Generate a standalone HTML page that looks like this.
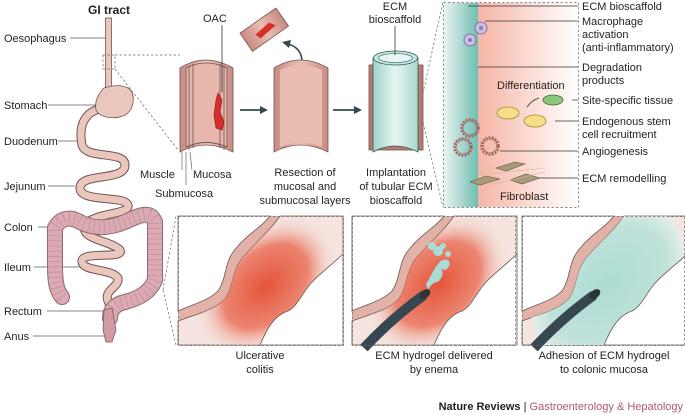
<!DOCTYPE html>
<html><head><meta charset="utf-8"><style>
body{margin:0;background:#fff}
svg{display:block;font-family:"Liberation Sans",sans-serif}
text{font-size:11px;fill:#231f20}
</style></head><body>
<svg width="685" height="415" viewBox="0 0 685 415" xmlns="http://www.w3.org/2000/svg">
<defs>
<linearGradient id="tube" x1="0" x2="1"><stop offset="0" stop-color="#c98a80"/><stop offset=".5" stop-color="#e9bfb4"/><stop offset="1" stop-color="#c98a80"/></linearGradient>
<linearGradient id="teal" x1="0" x2="1"><stop offset="0" stop-color="#9fd3ca"/><stop offset=".5" stop-color="#e6f5f2"/><stop offset="1" stop-color="#a8d8cf"/></linearGradient>
<linearGradient id="band" x1="0" x2="1"><stop offset="0" stop-color="#e8f4f1"/><stop offset="1" stop-color="#6fbdb1"/></linearGradient>
<linearGradient id="pk" x1="0" x2="1"><stop offset="0" stop-color="#f6b5a6"/><stop offset="1" stop-color="#fff"/></linearGradient>
<radialGradient id="red" cx=".5" cy=".5" r=".5"><stop offset="0" stop-color="#e4553a"/><stop offset=".6" stop-color="#ec8470"/><stop offset="1" stop-color="#f4e2dd" stop-opacity="0"/></radialGradient>
<radialGradient id="tl" cx=".5" cy=".5" r=".5"><stop offset="0" stop-color="#acdcd3"/><stop offset=".75" stop-color="#bfe2da"/><stop offset="1" stop-color="#e6eeea"/></radialGradient>
<clipPath id="lum"><path d="M0,105 C18,98 35,95 47,83 C57,68 53,52 68,38 C78,26 92,15 102,0 L165,0 L165,48 C150,58 138,70 128,80 C118,92 102,100 95,112 L90,129 L0,129Z"/></clipPath>
<g id="colbase">
<rect width="165" height="129" fill="#e2b2a8"/>
<path d="M0,105 C18,98 35,95 47,83 C57,68 53,52 68,38 C78,26 92,15 102,0 L165,0 L165,48 C150,58 138,70 128,80 C118,92 102,100 95,112 L90,129 L0,129Z" fill="#f5e4df" stroke="#6a5550" stroke-width=".8"/>
</g>
<g id="colwhite">
<path d="M0,0 L0,95 C15,88 30,85 40,75 C50,60 45,45 60,30 C70,18 85,10 92,0Z" fill="#fff" stroke="#6a5550" stroke-width=".8"/>
<path d="M82,129 C88,115 95,100 110,95 C120,90 125,75 135,65 C145,55 158,45 165,38 L165,129Z" fill="#fff" stroke="#6a5550" stroke-width=".8"/>
</g>
</defs>

<!-- GI tract -->
<text x="88" y="14" font-weight="bold" style="font-size:12px">GI tract</text>
<g stroke="#5a5a5a" stroke-width=".8">
<line x1="70" y1="38" x2="106" y2="38"/><line x1="48" y1="105" x2="100" y2="105"/><line x1="58" y1="141" x2="82" y2="141"/><line x1="48" y1="186" x2="75" y2="186"/><line x1="38" y1="227" x2="55" y2="227"/><line x1="34" y1="267" x2="85" y2="267"/><line x1="47" y1="311" x2="105" y2="311"/><line x1="33" y1="336" x2="105" y2="336"/>
</g>
<text x="4" y="42">Oesophagus</text><text x="4" y="109">Stomach</text><text x="4" y="145">Duodenum</text><text x="4" y="190">Jejunum</text><text x="4" y="231">Colon</text><text x="4" y="271">Ileum</text><text x="4" y="315">Rectum</text><text x="4" y="340">Anus</text>
<!-- small intestine -->
<path d="M105,108 C85,110 78,125 82,145 C86,160 125,150 125,165 C125,182 80,172 80,188 C80,203 125,195 128,205 C130,215 95,212 85,225 C80,240 110,240 120,250 C125,260 80,250 82,262 C84,272 110,268 118,278 C120,288 100,290 110,305" fill="none" stroke="#6d5552" stroke-width="9" stroke-linecap="round"/>
<path d="M105,108 C85,110 78,125 82,145 C86,160 125,150 125,165 C125,182 80,172 80,188 C80,203 125,195 128,205 C130,215 95,212 85,225 C80,240 110,240 120,250 C125,260 80,250 82,262 C84,272 110,268 118,278 C120,288 100,290 110,305" fill="none" stroke="#ebc6bd" stroke-width="7" stroke-linecap="round"/>
<!-- oesophagus & stomach -->
<rect x="105.5" y="18" width="6" height="75" fill="#ebc6bd" stroke="#6d5552" stroke-width=".8"/>
<path d="M104,88 C110,86 120,84 128,88 C136,92 135,110 125,115 C115,120 100,118 96,110 C94,100 100,92 104,88Z" fill="#ebc6bd" stroke="#6d5552" stroke-width=".8"/>
<!-- colon -->
<path d="M62,297 C56,290 55,280 55,265 L55,228 C60,218 70,216 80,222 C95,230 110,228 125,222 C140,215 150,210 155,222 L155,280 C150,292 140,298 125,302 C115,304 110,310 110,318" fill="none" stroke="#8a6a70" stroke-width="16" stroke-linejoin="round" stroke-linecap="round"/>
<path d="M62,297 C56,290 55,280 55,265 L55,228 C60,218 70,216 80,222 C95,230 110,228 125,222 C140,215 150,210 155,222 L155,280 C150,292 140,298 125,302 C115,304 110,310 110,318" fill="none" stroke="#dcaab2" stroke-width="14" stroke-linejoin="round" stroke-linecap="round"/>
<path d="M62,297 C56,290 55,280 55,265 L55,228 C60,218 70,216 80,222 C95,230 110,228 125,222 C140,215 150,210 155,222 L155,280 C150,292 140,298 125,302 C115,304 110,310 110,318" fill="none" stroke="#b07c86" stroke-width="14" stroke-linejoin="round" stroke-dasharray=".7 4.5" opacity=".6"/>
<path d="M104,310 L112,308 L116,330 L112,342 L106,342 L103,330Z" fill="#d49aa4" stroke="#7a5a5e" stroke-width=".8"/>
<!-- zoom dashes -->
<g fill="none" stroke="#6b6b6b" stroke-width=".7" stroke-dasharray="2.5 2">
<rect x="103" y="55" width="12" height="14"/><line x1="115" y1="55" x2="180" y2="55"/><line x1="115" y1="69" x2="178" y2="150"/>
<line x1="163" y1="290" x2="176" y2="345"/><line x1="163" y1="290" x2="176" y2="216"/>
<rect x="413" y="102" width="8" height="12"/><line x1="421" y1="102" x2="443" y2="2"/><line x1="421" y1="114" x2="443" y2="207"/>
</g>
<!-- tube 1 -->
<g stroke="#6d5552" stroke-width=".8">
<path d="M180,68 Q205,52 233,68 L233,152 Q205,138 180,152Z" fill="url(#tube)"/>
<path d="M186,68 Q206,58 227,68 L227,147 Q206,138 186,147Z" fill="#e7b7ab"/>
<line x1="189" y1="66" x2="189" y2="150" /><line x1="193" y1="64" x2="193" y2="148"/><line x1="220" y1="64" x2="220" y2="148"/><line x1="224" y1="66" x2="224" y2="150"/>
<path d="M186,147 Q206,138 227,147" fill="none"/>
</g>
<path d="M218,93 L222,100 L220,112 L224,122 L222,130 L216,128 L214,115 L216,100Z" fill="#d62f2a" stroke="#8a1510" stroke-width=".6"/>
<line x1="222" y1="25" x2="222" y2="92" stroke="#333" stroke-width=".8"/>
<text x="203" y="22">OAC</text>
<g stroke="#666" stroke-width=".7"><line x1="182" y1="152" x2="182" y2="170"/><line x1="186" y1="152" x2="186" y2="185"/><line x1="190" y1="152" x2="192" y2="170"/></g>
<text x="140" y="178">Muscle</text><text x="193" y="178">Mucosa</text><text x="155" y="197">Submucosa</text>
<!-- removed piece -->
<g transform="translate(262,30) rotate(-35)"><rect x="-20" y="-10" width="44" height="22" fill="url(#tube)" stroke="#6d5552" stroke-width=".8"/><path d="M-8,0 L10,-2 L14,4 L-6,6Z" fill="#d62f2a"/></g>
<path d="M302,62 Q302,48 288,44" fill="none" stroke="#37474f" stroke-width="1.6"/><path d="M282,42 L291,40 L289,48Z" fill="#37474f"/>
<!-- tube 2 -->
<path d="M274,68 Q300,52 328,68 L328,152 Q300,138 274,152Z" fill="url(#tube)" stroke="#6d5552" stroke-width=".8"/>
<path d="M280,70 Q301,60 322,70 L322,147 Q301,138 280,147Z" fill="#e9bdb1"/>
<!-- arrows -->
<g stroke="#37474f" stroke-width="1.8"><line x1="240" y1="110" x2="262" y2="110"/><line x1="333" y1="110" x2="356" y2="110"/></g>
<path d="M268,110 L260,106 L260,114Z M362,110 L354,106 L354,114Z" fill="#37474f"/>
<text x="305" y="176" text-anchor="middle">Resection of</text><text x="305" y="190" text-anchor="middle">mucosal and</text><text x="305" y="204" text-anchor="middle">submucosal layers</text>
<!-- tube 3 -->
<rect x="369" y="65" width="54" height="85" fill="#b8796f" stroke="#6d5552" stroke-width=".8"/>
<path d="M373,58 Q395,45 418,58 L418,152 Q395,140 373,152Z" fill="url(#teal)" stroke="#2f5e58" stroke-width=".8"/>
<ellipse cx="395.5" cy="58" rx="22" ry="7" fill="#c4e6df" stroke="#2f5e58" stroke-width=".8"/>
<ellipse cx="395.5" cy="58" rx="17" ry="4.5" fill="#e8f5f2" stroke="#2f5e58" stroke-width=".6"/>
<line x1="395" y1="26" x2="395" y2="55" stroke="#333" stroke-width=".8"/>
<text x="395" y="10" text-anchor="middle">ECM</text><text x="395" y="23" text-anchor="middle">bioscaffold</text>
<text x="396" y="176" text-anchor="middle">Implantation</text><text x="396" y="190" text-anchor="middle">of tubular ECM</text><text x="396" y="204" text-anchor="middle">bioscaffold</text>
<!-- right panel -->
<rect x="444" y="3" width="34" height="204" fill="url(#band)"/>
<rect x="478" y="3" width="100" height="204" fill="url(#pk)"/>
<g stroke="#333" stroke-width=".7">
<line x1="468" y1="6" x2="578" y2="6"/><line x1="485" y1="21" x2="578" y2="21"/><line x1="478" y1="67" x2="578" y2="67"/><line x1="572" y1="100" x2="578" y2="100"/><line x1="555" y1="121" x2="578" y2="121"/><line x1="500" y1="151" x2="578" y2="151"/><line x1="530" y1="178" x2="578" y2="178"/>
</g>
<g fill="#cbbfe0" stroke="#6c6190" stroke-width=".8"><circle cx="481" cy="28" r="6"/><circle cx="470" cy="40" r="6"/></g>
<circle cx="481" cy="28" r="2" fill="#8a7bb8"/><circle cx="470" cy="40" r="2" fill="#8a7bb8"/>
<text x="497" y="89">Differentiation</text>
<ellipse cx="553" cy="100" rx="10" ry="5" fill="#8cc77a" stroke="#3d6b30" stroke-width=".8"/>
<ellipse cx="508" cy="113" rx="11" ry="6" fill="#f7df8a" stroke="#a08a30" stroke-width=".8"/>
<ellipse cx="535" cy="121" rx="11" ry="6" fill="#f7df8a" stroke="#a08a30" stroke-width=".8"/>
<path d="M527,107 Q532,100 539,98" fill="none" stroke="#333" stroke-width=".8"/>
<g fill="none" stroke="#a06a64" stroke-width="3.5" stroke-dasharray="2 1"><circle cx="470" cy="128" r="8"/><circle cx="463" cy="147" r="8"/><circle cx="490" cy="146" r="8"/></g>
<g fill="#a89a7a" stroke="#5e5440" stroke-width=".6"><path d="M496,168 L515,162 L525,164 L506,171Z"/><path d="M470,182 L486,176 L500,179 L480,185Z"/><path d="M510,180 L526,174 L540,178 L522,184Z"/></g>
<g stroke="#c9b69a" stroke-width=".6"><line x1="480" y1="175" x2="545" y2="168"/><line x1="490" y1="185" x2="545" y2="172"/></g>
<text x="500" y="200">Fibroblast</text>
<rect x="443.5" y="2.5" width="135" height="205" fill="none" stroke="#6b6b6b" stroke-width=".7" stroke-dasharray="2.5 2"/>
<g style="font-size:11px"><text x="582" y="10">ECM bioscaffold</text><text x="582" y="25">Macrophage</text><text x="582" y="38">activation</text><text x="582" y="51">(anti-inflammatory)</text><text x="582" y="71">Degradation</text><text x="582" y="84">products</text><text x="582" y="104">Site-specific tissue</text><text x="582" y="125">Endogenous stem</text><text x="582" y="138">cell recruitment</text><text x="582" y="155">Angiogenesis</text><text x="582" y="182">ECM remodelling</text></g>
<!-- bottom panels -->
<g transform="translate(178,216)">
<use href="#colbase"/>
<g clip-path="url(#lum)"><ellipse cx="88" cy="70" rx="82" ry="56" transform="rotate(-45 88 70)" fill="url(#red)"/></g>
<use href="#colwhite"/>
</g>
<g transform="translate(352,216)">
<use href="#colbase"/>
<g clip-path="url(#lum)"><ellipse cx="86" cy="68" rx="82" ry="56" transform="rotate(-45 86 68)" fill="url(#red)"/></g>
<use href="#colwhite"/>
<g fill="#a8dcd4"><path d="M76,74 Q80,66 86,66 Q92,60 90,54 L84,50 Q80,58 74,68Z"/><path d="M84,52 Q88,42 96,44 Q100,48 94,54Z"/><circle cx="86" cy="35" r="5"/><circle cx="80" cy="30" r="4"/><circle cx="91" cy="30" r="3"/><circle cx="96" cy="38" r="3"/></g>
<path d="M12,132 Q40,102 72,79" fill="none" stroke="#37474f" stroke-width="10"/><ellipse cx="73" cy="78" rx="4" ry="6" transform="rotate(50 73 78)" fill="#2a3439"/>
</g>
<g transform="translate(522,216)">
<use href="#colbase"/>
<g clip-path="url(#lum)"><ellipse cx="86" cy="68" rx="90" ry="62" transform="rotate(-45 86 68)" fill="url(#tl)"/></g>
<use href="#colwhite"/>
<path d="M12,132 Q40,102 72,79" fill="none" stroke="#37474f" stroke-width="10"/><ellipse cx="73" cy="78" rx="4" ry="6" transform="rotate(50 73 78)" fill="#2a3439"/>
</g>
<g fill="none" stroke="#6b6b6b" stroke-width=".7" stroke-dasharray="2.5 2">
<rect x="178.5" y="216.5" width="165" height="129"/><rect x="352.5" y="216.5" width="163" height="129"/><rect x="522.5" y="216.5" width="162" height="129"/>
</g>
<g text-anchor="middle"><text x="260" y="359">Ulcerative</text><text x="260" y="373">colitis</text><text x="434" y="359">ECM hydrogel delivered</text><text x="434" y="373">by enema</text><text x="604" y="359">Adhesion of ECM hydrogel</text><text x="604" y="373">to colonic mucosa</text></g>
<text x="683" y="410" text-anchor="end" style="font-size:11px"><tspan font-weight="bold">Nature Reviews</tspan> | <tspan style="fill:#b05a6a">Gastroenterology &amp; Hepatology</tspan></text>
</svg>
</body></html>
